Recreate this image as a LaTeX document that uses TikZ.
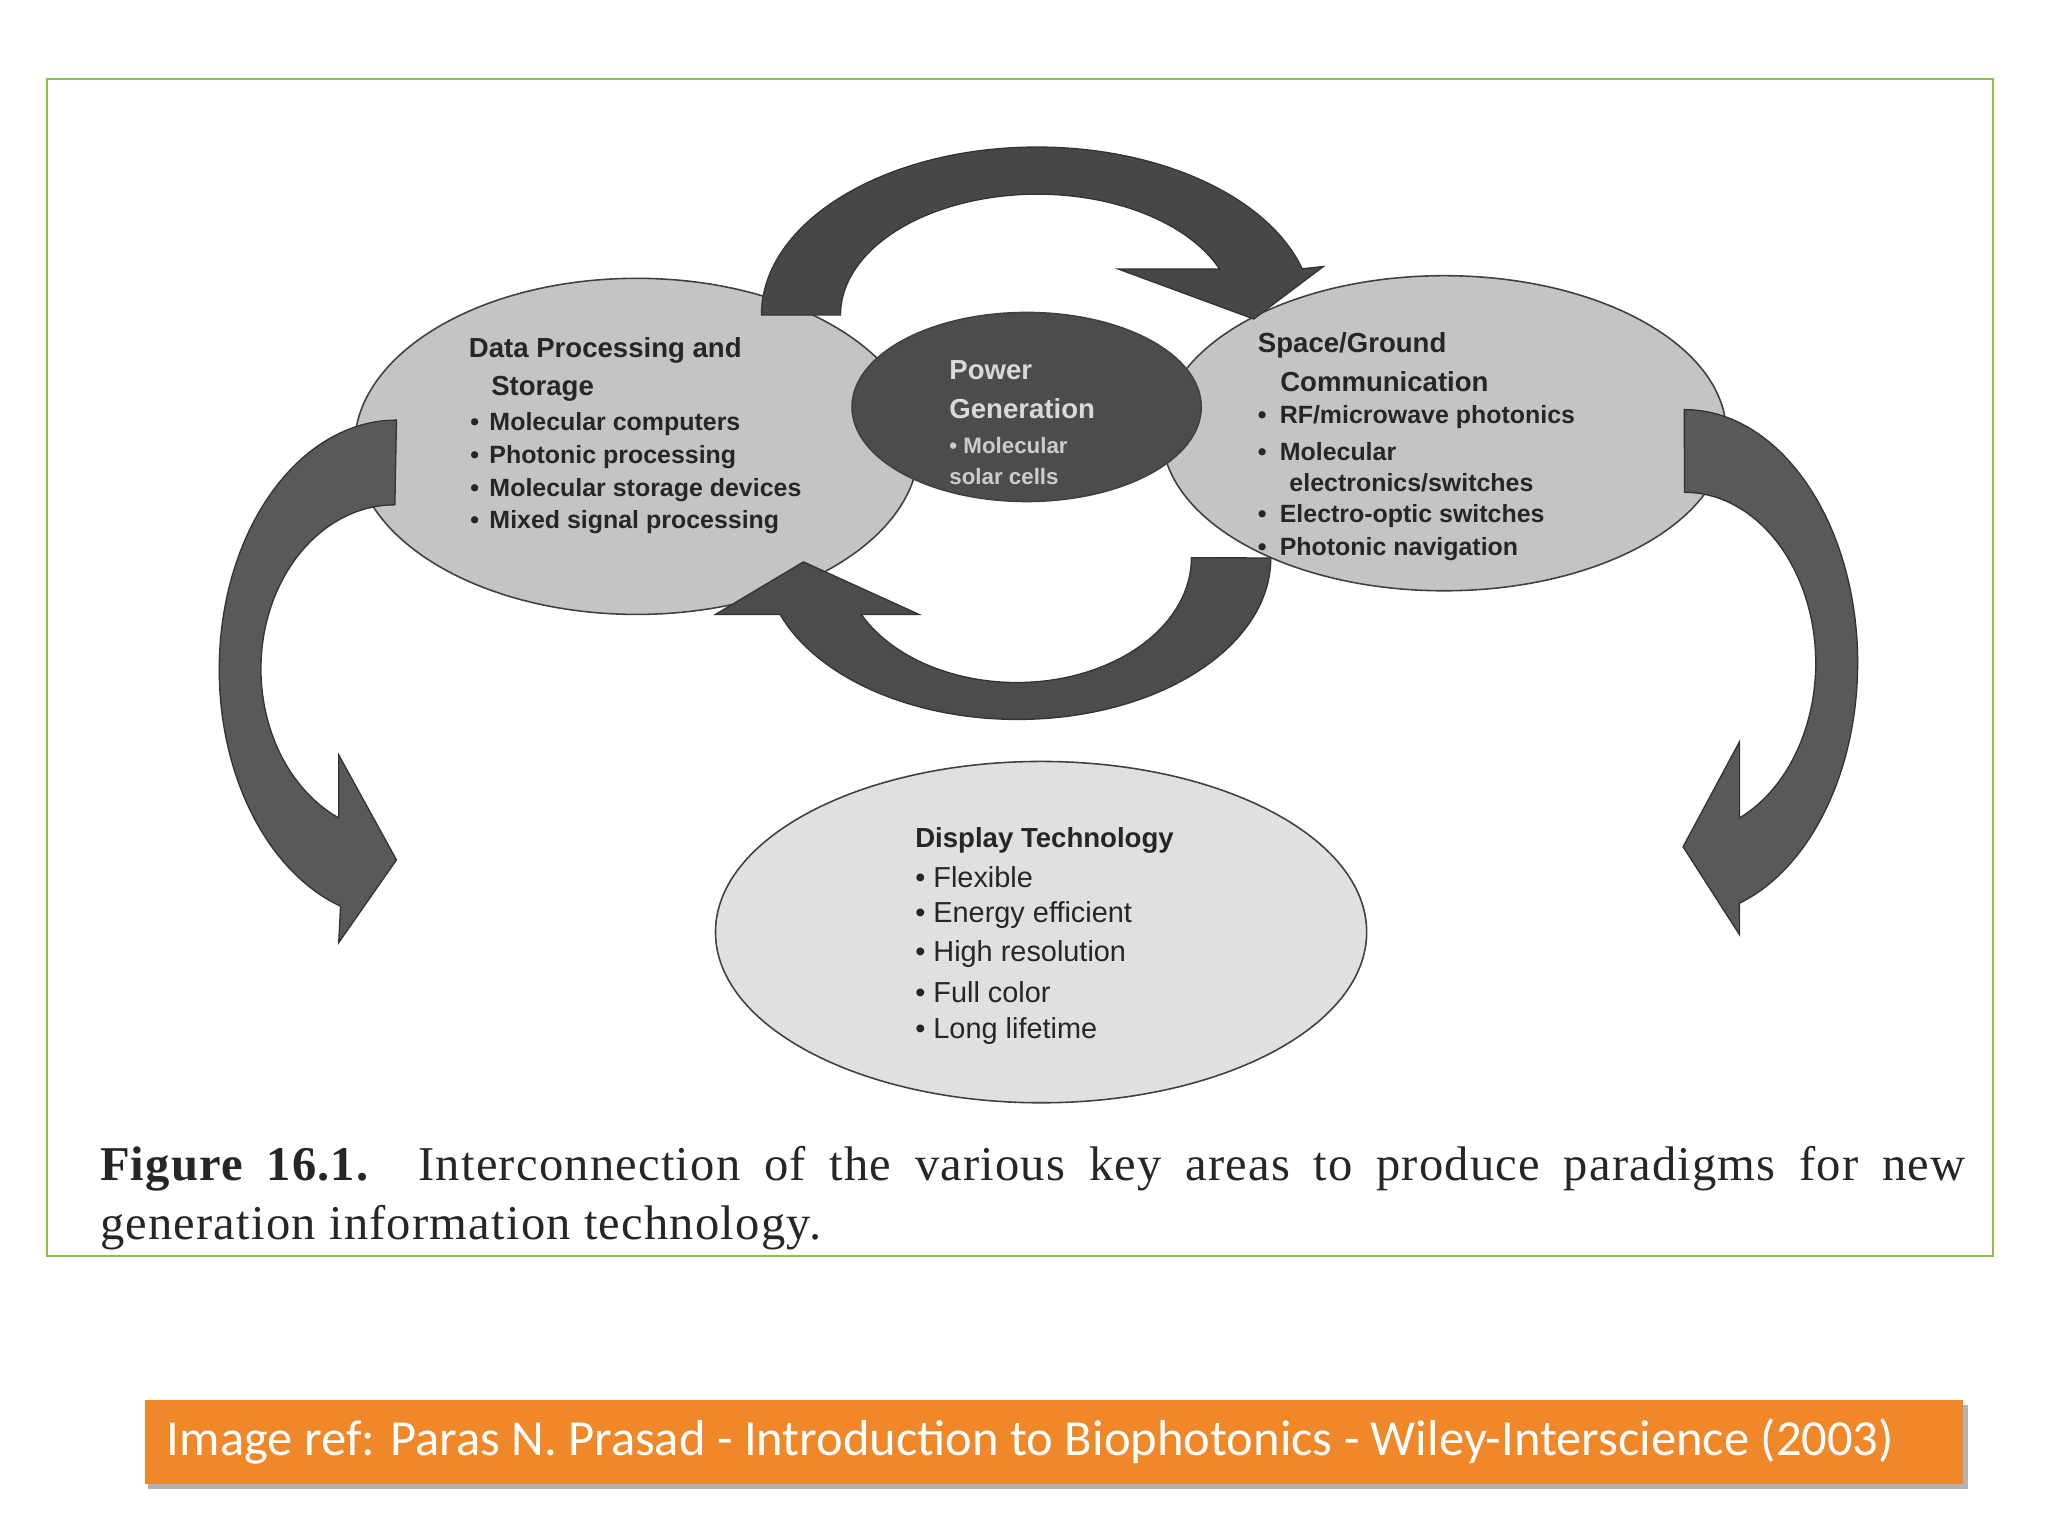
\documentclass[tikz,border=0pt]{standalone}
\usepackage{fontspec}
\setmainfont{Liberation Serif}
\newfontfamily\capfont[LetterSpace=2.5]{Liberation Serif}
\newfontfamily\lsans{Liberation Sans}
\newfontfamily\carl{Carlito}
\begin{document}
\begin{tikzpicture}[x=1pt,y=-1pt,
  ell/.style={draw=black!75,line width=1.2pt},
  arr/.style={draw=black!80,line width=1pt,line join=miter},
  tx/.style={anchor=west,inner sep=0pt,font=\lsans\bfseries\fontsize{19}{23}\selectfont,text=black!85},
  ttl/.style={anchor=west,inner sep=0pt,font=\lsans\bfseries\fontsize{21}{25}\selectfont,text=black!85},
  ptx/.style={anchor=west,inner sep=0pt,font=\lsans\bfseries\fontsize{17}{21}\selectfont,text=black!20},
  dtx/.style={anchor=west,inner sep=0pt,font=\lsans\fontsize{22}{26}\selectfont,text=black!85},
  captx/.style={anchor=west,inner sep=0pt,font=\capfont\fontsize{37}{40}\selectfont,text=black!85}]
\useasboundingbox (0,0) rectangle (1560,1170);
\fill[white] (0,0) rectangle (1560,1170);
% frame
\draw[draw={rgb,255:red,141;green,192;blue,74},line width=1.5pt,fill=white] (36,60) rectangle (1518,957);
% ellipses
\draw[ell,fill=black!23] (485,340) ellipse[x radius=215,y radius=128];
\draw[ell,fill=black!23] (1100,330) ellipse[x radius=215,y radius=120];
\draw[ell,fill=black!12] (793,710) ellipse[x radius=248,y radius=130];
\draw[ell,fill=black!70] (782,310) ellipse[x radius=133,y radius=72];
% top arrow
\draw[arr,fill=black!72] (580,240) arc[start angle=180,end angle=344,x radius=210,y radius=128]
  -- (1008,203) -- (955,243) -- (852,205) -- (929,205)
  arc[start angle=337.7,end angle=180,x radius=150,y radius=92] -- cycle;
% bottom arrow
\draw[arr,fill=black!70] (968,425) arc[start angle=0,end angle=159.5,x radius=193,y radius=123]
  -- (545,468) -- (612,428) -- (700,468) -- (656,468)
  arc[start angle=153,end angle=0,x radius=133,y radius=95] -- cycle;
% left arrow
\draw[arr,fill=black!65] (302,320) arc[start angle=270,end angle=108.4,x radius=135,y radius=190]
  -- (258,718) -- (302,655) -- (258,575) -- (258,623)
  arc[start angle=114.8,end angle=270,x radius=102,y radius=125] -- cycle;
% right arrow
\draw[arr,fill=black!65] (1283,312) arc[start angle=270,end angle=431.5,x radius=132,y radius=193]
  -- (1325,712) -- (1282,645) -- (1325,565) -- (1325,623)
  arc[start angle=425.2,end angle=270,x radius=100,y radius=130] -- cycle;
% left texts
\node[ttl] (l1) at (357,267) {Data Processing and};
\node[ttl] (l2) at (374,296) {Storage};
\node[tx] (l3) at (358,323) {•\hspace{8pt}Molecular computers};
\node[tx] (l4) at (358,348) {•\hspace{8pt}Photonic processing};
\node[tx] (l5) at (358,373) {•\hspace{8pt}Molecular storage devices};
\node[tx] (l6) at (358,398) {•\hspace{8pt}Mixed signal processing};
% right texts
\node[ttl] (r1) at (958,263) {Space/Ground};
\node[ttl] (r2) at (975,291) {Communication};
\node[tx] (r3) at (958,318) {•\hspace{10pt}RF/microwave photonics};
\node[tx] (r4) at (958,344) {•\hspace{10pt}Molecular};
\node[tx] (r5) at (982,368) {electronics/switches};
\node[tx] (r6) at (958,393) {•\hspace{10pt}Electro-optic switches};
\node[tx] (r7) at (958,418) {•\hspace{10pt}Photonic navigation};
% center texts
\node[ttl,text=black!15] (c1) at (723,282) {Power};
\node[ttl,text=black!15] (c2) at (723,311) {Generation};
\node[ptx] (c3) at (723,339) {• Molecular};
\node[ptx] (c4) at (723,363) {solar cells};
% bottom texts
\node[dtx,font=\lsans\bfseries\fontsize{21}{25}\selectfont] (d1) at (697,640) {Display Technology};
\node[dtx] (d2) at (697,668) {• Flexible};
\node[dtx] (d3) at (697,697) {• Energy efficient};
\node[dtx] (d4) at (697,727) {• High resolution};
\node[dtx] (d5) at (697,756) {• Full color};
\node[dtx] (d6) at (697,785) {• Long lifetime};
% caption
\node[captx] (cap1) at (76,890)
  {\makebox[1421pt][s]{\textbf{Figure 16.1.} Interconnection of the various key areas to produce paradigms for new}};
\node[captx] (cap2) at (76,935) {generation information technology.};
% reference bar
\fill[black!30] (113,1070) rectangle (1499,1134);
\node[anchor=north west,minimum width=1385pt,minimum height=64pt,inner sep=0pt,
  fill={rgb,255:red,240;green,135;blue,40}] (bar) at (110,1066) {};
\node[anchor=west,inner sep=0pt,text=white,font=\carl\fontsize{38.5}{44}\selectfont] (ref) at (127,1098)
  {Image ref: Paras N. Prasad - Introduction to Biophotonics - Wiley-Interscience (2003)};
\end{tikzpicture}
\end{document}
